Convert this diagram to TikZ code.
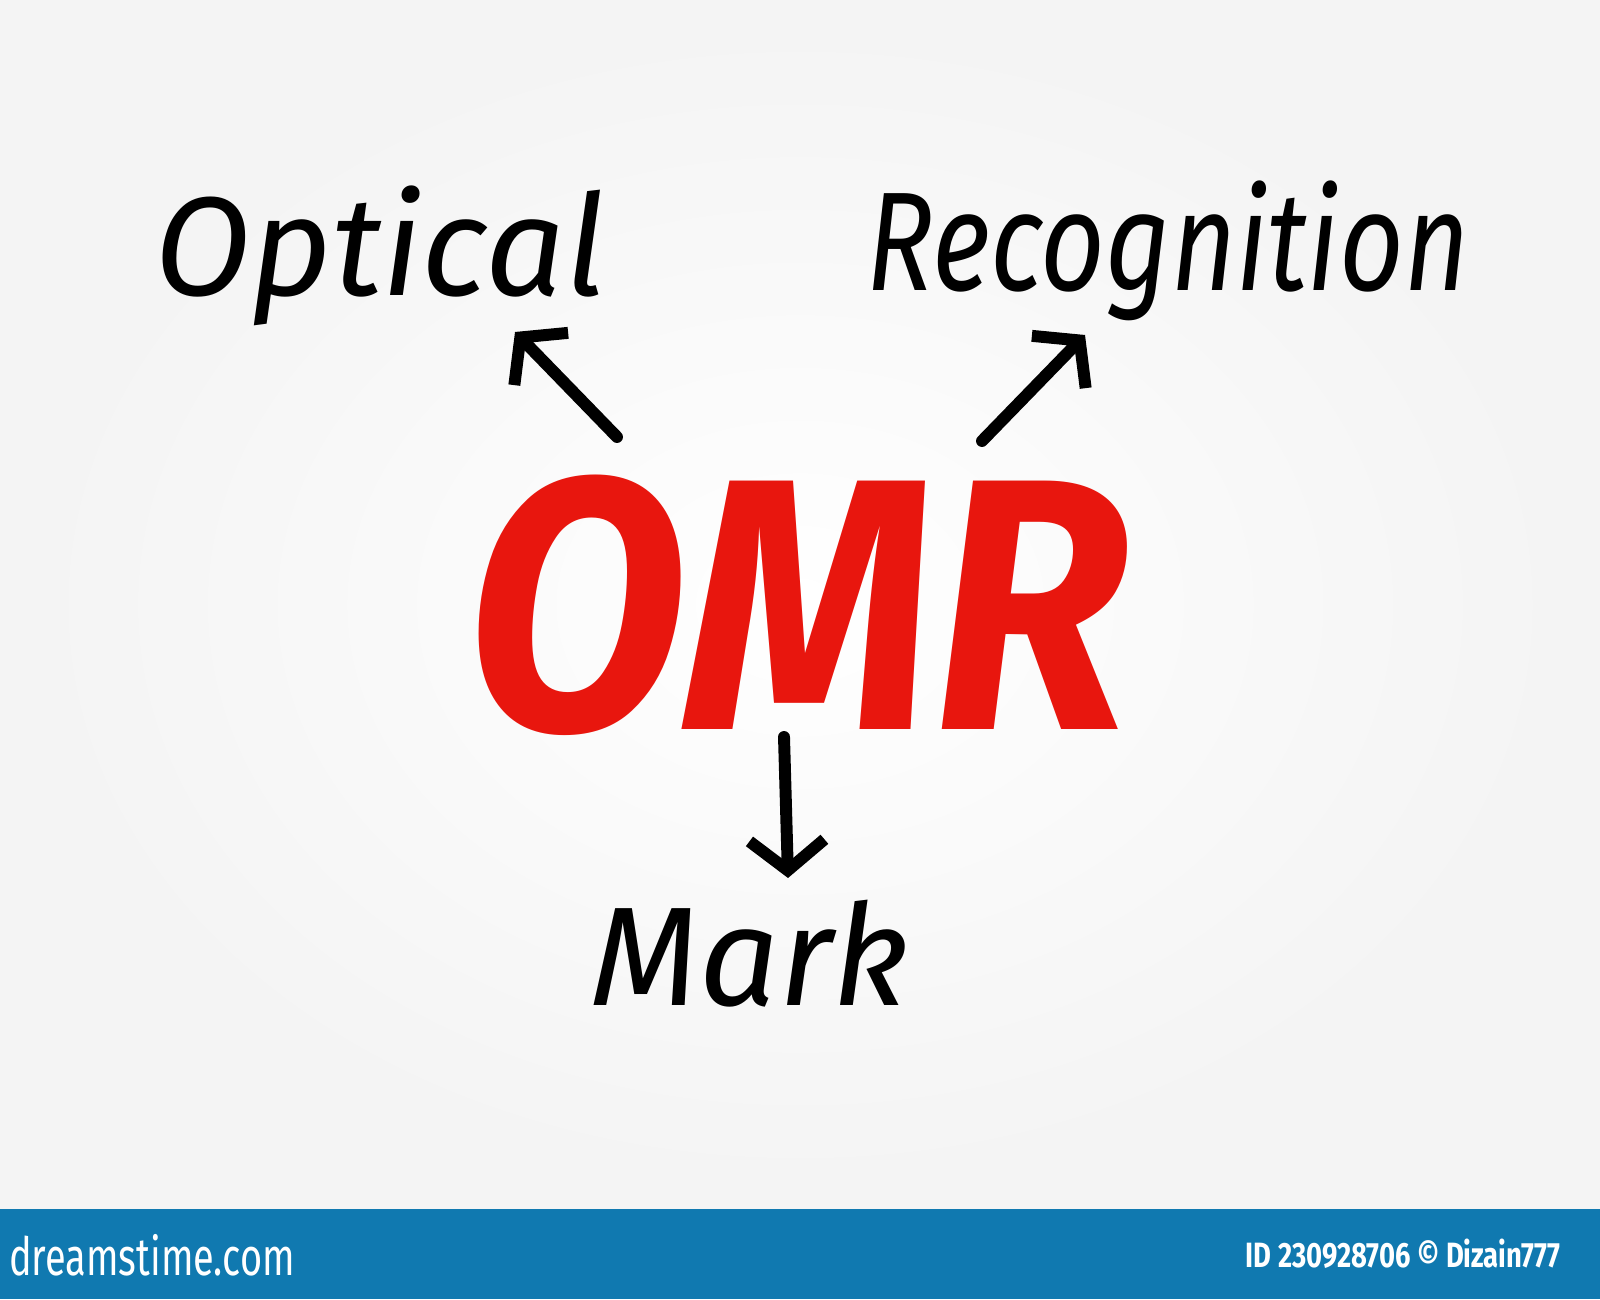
\documentclass[tikz,border=0pt]{standalone}
\usepackage{fontspec}
\setmainfont{Fira Sans}
\usetikzlibrary{arrows.meta}
\definecolor{omrred}{RGB}{232,22,14}
\definecolor{barblue}{RGB}{16,121,176}
\tikzset{
  word/.style={anchor=base, font=\fontsize{40}{40}\selectfont\itshape},
  hand/.style={line width=3.4pt, line cap=round, -{Straight Barb[length=3mm, width=7.5mm, line width=3.4pt]}}
}

\begin{document}
\begin{tikzpicture}
    % background
    \useasboundingbox (0,0) rectangle (16,12.99);
    \shade[inner color=white, outer color=gray!9] (0,0.9) rectangle (16,12.99);
    \fill[barblue] (0,0) rectangle (16,0.9);
    % words
    \node (omr) [anchor=base, text=omrred, xscale=0.9, font=\fontsize{102}{102}\selectfont\bfseries\itshape] at (7.98,5.69) {OMR};
    \node (optical) [word] at (3.80,10.03) {Optical};
    \node (recognition) [word, xscale=0.8] at (11.68,10.08) {Recognition};
    \node (mark) [word] at (7.50,2.94) {Mark};
    % arrows
    \coordinate (a1) at (6.17,8.62);
    \coordinate (b1) at (5.15,9.67);
    \coordinate (a2) at (9.82,8.58);
    \coordinate (b2) at (10.85,9.64);
    \coordinate (a3) at (7.84,5.62);
    \coordinate (b3) at (7.88,4.21);
    \draw[hand] (a1) -- (b1);
    \draw[hand] (a2) -- (b2);
    \draw[hand] (a3) -- (b3);
    % bar texts
    \node (site) [text=white, xscale=0.72, font=\fontsize{15}{15}\selectfont] at (1.52,0.44) {dreamstime.com};
    \node (id) [text=white, anchor=east, xscale=0.78, font=\fontsize{10}{10}\selectfont\bfseries] at (15.70,0.45) {ID 230928706 © Dizain777};
\end{tikzpicture}
\end{document}
